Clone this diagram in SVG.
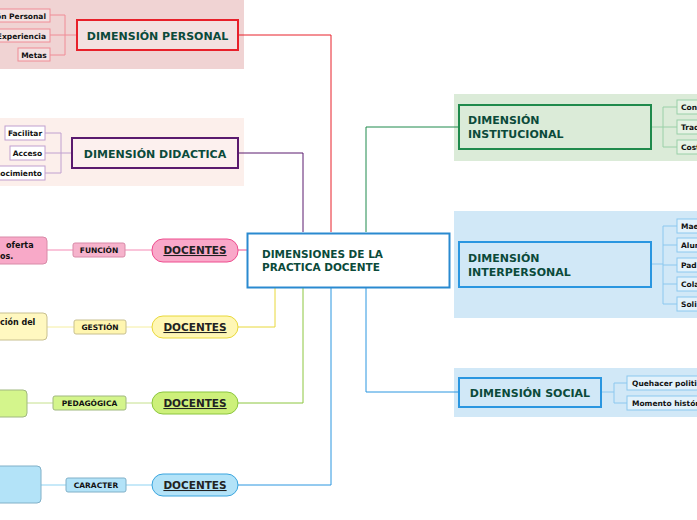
<svg xmlns="http://www.w3.org/2000/svg" width="697" height="520" viewBox="0 0 697 520">
<style>
text{font-family:Verdana,"DejaVu Sans",sans-serif;font-weight:bold;fill:#111}
.m{font-size:11px;fill:#0b4a3a}
.s{font-size:7.5px}
.d{font-size:10.5px;text-decoration:underline;fill:#222}
</style>
<rect x="0" y="0" width="244" height="69" fill="#f0d3d3"/>
<rect x="0" y="118" width="244" height="68" fill="#fcefeb"/>
<rect x="454" y="94" width="243" height="67" fill="#dbebd8"/>
<rect x="454" y="211" width="243" height="107" fill="#d1e8f7"/>
<rect x="454" y="368" width="243" height="49" fill="#d1e8f7"/>
<g id="connectors" fill="none">
<path d="M238,35H331V232" stroke="#e8202a"/>
<path d="M238,153H303V232" stroke="#5a1a6e"/>
<path d="M238,250H247" stroke="#ee4c8e"/>
<path d="M238,327H275V288" stroke="#e8d83a"/>
<path d="M238,403H303V288" stroke="#8cc63f"/>
<path d="M238,485H331V288" stroke="#2a96e0"/>
<path d="M366,232V127H459" stroke="#1f8a4c"/>
<path d="M366,288V392H459" stroke="#2a96e0"/>
<path d="M77,35H65M50,15H65V55H50M50,35H65" stroke="#f08c96"/>
<path d="M72,153H61M45,133H61V173H45M45,153H61" stroke="#c0a0d0"/>
<path d="M152,250H125M73,250H47" stroke="#f58ab5"/>
<path d="M152,327H126M74,327H47" stroke="#f5eea0"/>
<path d="M152,403H126M53,403H27" stroke="#c5e08c"/>
<path d="M152,485H126M66,485H41" stroke="#8fd3f2"/>
<path d="M651,127H663M677,107H663V147H677M677,127H663" stroke="#9ad0a8"/>
<path d="M651,264H663M677,226H663V304H677M677,245H663M677,265H663M677,284H663" stroke="#8cc8ef"/>
<path d="M601,392H614M627,383H614V403H627" stroke="#8cc8ef"/>
</g>
<g id="center"><rect x="247.5" y="233.5" width="202" height="54" fill="#fff" stroke="#2a8ad0" stroke-width="2"/><text class="m" x="262" y="258" style="font-size:10.5px">DIMENSIONES DE LA</text><text class="m" x="262" y="271" style="font-size:10.5px">PRACTICA DOCENTE</text></g>
<g id="personal"><rect x="77" y="20" width="161" height="30" fill="#f3e1e1" stroke="#e8202a" stroke-width="2"/><text class="m" x="157.5" y="39.5" text-anchor="middle">DIMENSIÓN PERSONAL</text>
<rect x="-5" y="9" width="55" height="13" fill="#f3e1e1" stroke="#f08c96"/><text class="s" x="46" y="18.5" text-anchor="end">ón Personal</text>
<rect x="-5" y="29" width="55" height="13" fill="#f3e1e1" stroke="#f08c96"/><text class="s" x="46" y="38.5" text-anchor="end">Experiencia</text>
<rect x="18" y="48" width="32" height="13" fill="#f3e1e1" stroke="#f08c96"/><text class="s" x="34" y="57.5" text-anchor="middle">Metas</text></g>
<g id="didactica"><rect x="72" y="138" width="166" height="30" fill="#fcf0ee" stroke="#5a1a6e" stroke-width="2"/><text class="m" x="155" y="157.5" text-anchor="middle">DIMENSIÓN DIDACTICA</text>
<rect x="5" y="126" width="40" height="14" fill="#fff" stroke="#c0a0d0"/><text class="s" x="25" y="136" text-anchor="middle">Facilitar</text>
<rect x="10" y="146" width="35" height="14" fill="#fff" stroke="#c0a0d0"/><text class="s" x="27.5" y="156" text-anchor="middle">Acceso</text>
<rect x="-5" y="166" width="50" height="14" fill="#fff" stroke="#c0a0d0"/><text class="s" x="42" y="176" text-anchor="end">nocimiento</text></g>
<g id="funcion"><rect x="152" y="239" width="86" height="23" rx="11" fill="#f9a8c9" stroke="#ee4c8e"/><text class="d" x="195" y="254" text-anchor="middle">DOCENTES</text>
<rect x="73" y="243" width="52" height="14" rx="2" fill="#f6b3cc" stroke="#d98aa8"/><text class="s" x="99" y="253" text-anchor="middle">FUNCIÓN</text>
<rect x="-5" y="237" width="52" height="27" rx="4" fill="#f8a9c8" stroke="#d98aa8"/><text class="s" x="6" y="248" style="font-size:8px">oferta</text><text class="s" x="0" y="259" style="font-size:8px">os.</text></g>
<g id="gestion"><rect x="152" y="316" width="86" height="22" rx="11" fill="#fff7b5" stroke="#e8d83a"/><text class="d" x="195" y="331" text-anchor="middle">DOCENTES</text>
<rect x="74" y="320" width="52" height="14" rx="2" fill="#fff6b0" stroke="#c8c090"/><text class="s" x="100" y="330" text-anchor="middle">GESTIÓN</text>
<rect x="-5" y="313" width="52" height="27" rx="4" fill="#fff8c0" stroke="#c8c090"/><text class="s" x="0" y="325" style="font-size:8px">ción del</text></g>
<g id="pedagogica"><rect x="152" y="392" width="86" height="22" rx="11" fill="#cdf07a" stroke="#8cc63f"/><text class="d" x="195" y="407" text-anchor="middle">DOCENTES</text>
<rect x="53" y="396" width="73" height="14" rx="2" fill="#d4f58c" stroke="#a0b880"/><text class="s" x="89.5" y="406" text-anchor="middle">PEDAGÓGICA</text>
<rect x="-5" y="390" width="32" height="27" rx="4" fill="#d4f58c" stroke="#a0b880"/></g>
<g id="caracter"><rect x="152" y="474" width="86" height="22" rx="11" fill="#b3e3f8" stroke="#3aa5de"/><text class="d" x="195" y="489" text-anchor="middle">DOCENTES</text>
<rect x="66" y="478" width="60" height="14" rx="2" fill="#b3e3f8" stroke="#80b0c8"/><text class="s" x="96" y="488" text-anchor="middle">CARACTER</text>
<rect x="-5" y="466" width="46" height="37" rx="4" fill="#b3e3f8" stroke="#80b0c8"/></g>
<g id="institucional"><rect x="459" y="105" width="192" height="44" fill="#dbebd8" stroke="#1f8a4c" stroke-width="2"/><text class="m" x="468" y="124">DIMENSIÓN</text><text class="m" x="468" y="138">INSTITUCIONAL</text>
<rect x="677" y="100" width="30" height="14" fill="#e6f2e4" stroke="#9ad0a8"/><text class="s" x="681" y="110">Con</text>
<rect x="677" y="120" width="30" height="14" fill="#e6f2e4" stroke="#9ad0a8"/><text class="s" x="681" y="130">Trad</text>
<rect x="677" y="140" width="30" height="14" fill="#e6f2e4" stroke="#9ad0a8"/><text class="s" x="681" y="150">Cost</text></g>
<g id="interpersonal"><rect x="459" y="242" width="192" height="45" fill="#d1e8f7" stroke="#2a96e0" stroke-width="2"/><text class="m" x="468" y="262">DIMENSIÓN</text><text class="m" x="468" y="276">INTERPERSONAL</text>
<rect x="677" y="219" width="30" height="14" fill="#e3f2fb" stroke="#8cc8ef"/><text class="s" x="681" y="229">Mae</text>
<rect x="677" y="238" width="30" height="14" fill="#e3f2fb" stroke="#8cc8ef"/><text class="s" x="681" y="248">Alum</text>
<rect x="677" y="258" width="30" height="14" fill="#e3f2fb" stroke="#8cc8ef"/><text class="s" x="681" y="268">Pad</text>
<rect x="677" y="277" width="30" height="14" fill="#e3f2fb" stroke="#8cc8ef"/><text class="s" x="681" y="287">Cola</text>
<rect x="677" y="297" width="30" height="14" fill="#e3f2fb" stroke="#8cc8ef"/><text class="s" x="681" y="307">Soli</text></g>
<g id="social"><rect x="459" y="378" width="142" height="29" fill="#d1e8f7" stroke="#2a96e0" stroke-width="2"/><text class="m" x="530" y="396.5" text-anchor="middle">DIMENSIÓN SOCIAL</text>
<rect x="627" y="376" width="80" height="14" fill="#e3f2fb" stroke="#8cc8ef"/><text class="s" x="632" y="386">Quehacer politi</text>
<rect x="627" y="396" width="80" height="14" fill="#e3f2fb" stroke="#8cc8ef"/><text class="s" x="632" y="406">Momento histór</text></g>
</svg>
